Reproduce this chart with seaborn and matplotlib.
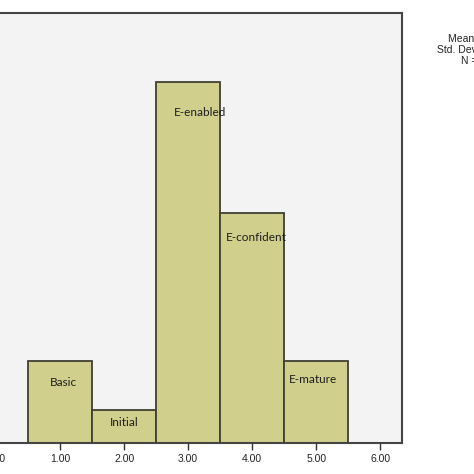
import numpy as np
import pandas as pd
import matplotlib
matplotlib.use("Agg")
import matplotlib.pyplot as plt
import seaborn as sns

# maturity level codes, counts per level, and bar labels
niveis = [1, 2, 3, 4, 5]
contagens = [5, 2, 22, 14, 5]
rotulos = ["Basic", "Initial", "E-enabled", "E-confident", "E-mature"]
xticks = [0, 1, 2, 3, 4, 5, 6]

df = pd.DataFrame({"nivel": niveis, "n": contagens})

valores = np.repeat(niveis, contagens)
media = valores.mean()
desvio = valores.std(ddof=1)
total = len(valores)

sns.set_style("white")
plt.rcParams["font.family"] = ["Liberation Sans", "DejaVu Sans"]

fig = plt.figure(figsize=(4.74, 4.74), dpi=100)
ax = fig.add_axes([-0.0354, 0.0654, 0.8835, 0.9072])
ax.set_facecolor("#f3f3f3")

sns.histplot(data=df, x="nivel", weights="n", discrete=True, ax=ax,
             color="#d0cf8c", edgecolor="#3f3f33", linewidth=1.3, alpha=1)

ax.set_xlim(-0.2, 6.34)
ax.set_ylim(0, 26.22)

# labels sit inside each bar, a bit below the top
desl_y = [1.34, 0.72, 1.82, 1.44, 1.10]
desl_x = [0.05, 0.0, 0.19, 0.06, -0.05]
for nivel, c, rot, dy, dx in zip(niveis, contagens, rotulos, desl_y, desl_x):
    ax.text(nivel + dx, c - dy, rot, ha="center", va="center", fontsize=8.5,
            family=["Lato", "DejaVu Sans"], color="#1e1e1e")

ax.set_xticks(xticks)
ax.set_xticklabels([f"{t:.2f}" for t in xticks], fontsize=7.5, color="#222222")
ax.set_yticks([])
ax.tick_params(axis="x", direction="out", length=5, width=1, color="#333333", pad=3,
               bottom=True)
ax.set_xlabel("")
ax.set_ylabel("")
for s in ax.spines.values():
    s.set_color("#444444")
    s.set_linewidth(1.5)

fig.text(1.006, 0.8945,
         f"Mean = {media:.2f}\nStd. Dev. = {desvio:.3f}\nN = {total}",
         ha="center", va="center", fontsize=7.5, linespacing=1.15, color="#222222")

fig.savefig("out.png", dpi=100, facecolor="white")
